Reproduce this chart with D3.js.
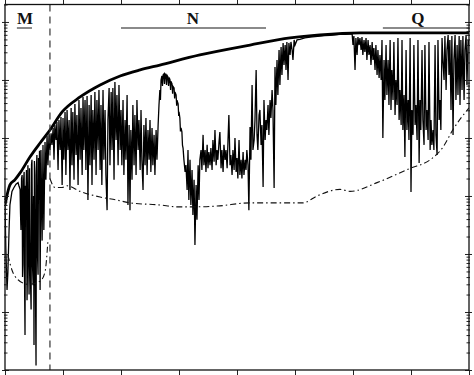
<!DOCTYPE html>
<html><head><meta charset="utf-8">
<script src="https://cdn.jsdelivr.net/npm/d3@7"></script>
<style>body{margin:0;background:#fff}svg{display:block}</style>
</head><body>
<script>
// ---- data (wavelength in micrometres, relative transmission / flux on log axis) ----
const bandNames = ["M", "N", "Q"];
const bandStart = [4.41, 8.0, 17.03];
const bandEnd = [4.93, 13.0, 20.0];
const bandLabelAt = [4.69, 10.48, 18.24];
const cutoffWavelength = 5.55;
const xTickValues = [4, 6, 8, 10, 12, 14, 16, 18, 20];
const xDomain = [4, 20];
const yDomain = [1e-6, 2];

const envelope = [[4.00,7.0e-4],[4.17,1.55e-3],[4.34,1.9e-3],[4.52,2.5e-3],[4.86,4.7e-3],[5.21,8.2e-3],[5.55,0.0137],[5.97,0.0281],[6.59,0.0509],[7.28,0.082],[7.97,0.117],[8.66,0.149],[9.34,0.181],[10.72,0.27],[12.45,0.40],[13.83,0.53],[14.86,0.60],[16.24,0.65],[20.00,0.65]];

const lowerLimitM = [[4.10,9.6e-5],[4.24,5.3e-5],[4.45,3.6e-5],[4.79,3.0e-5],[5.21,3.4e-5],[5.38,4.9e-5],[5.48,1.7e-4]];
const lowerLimit = [[5.55,2.0e-3],[5.72,1.4e-3],[5.97,1.4e-3],[6.14,1.5e-3],[6.59,1.2e-3],[7.28,9.6e-4],[7.86,8.5e-4],[8.31,7.6e-4],[9.34,7.0e-4],[9.93,6.5e-4],[10.62,6.5e-4],[11.31,6.7e-4],[12.45,7.6e-4],[13.59,7.6e-4],[14.28,7.6e-4],[14.76,1.0e-3],[15.55,1.3e-3],[15.90,1.2e-3],[16.83,1.7e-3],[17.97,3.0e-3],[18.66,4.2e-3],[19.10,6.9e-3],[19.45,1.4e-2],[20.00,3.3e-2]];

const spectrumM = [[4.00,7.0e-4],[4.03,1.2e-4],[4.07,2.4e-5],[4.10,4.9e-5],[4.14,2.6e-4],[4.17,7.0e-4],[4.24,1.2e-3],[4.31,1.4e-3],[4.38,1.6e-3],[4.45,1.7e-3],[4.48,1.5e-3],[4.52,1.3e-3],[4.535,5e-4],[4.55,2.6e-4],[4.57,2.0e-3],[4.59,2.3e-3],[4.605,4e-5],[4.62,6.5e-5],[4.64,1.8e-3],[4.66,2.6e-3],[4.675,3e-5],[4.69,4.0e-6],[4.705,1.5e-3],[4.72,8.5e-4],[4.74,2.8e-3],[4.76,1.6e-5],[4.775,6e-5],[4.79,3.4e-3],[4.81,2.0e-4],[4.83,2.0e-5],[4.845,3.0e-3],[4.86,1.7e-4],[4.88,3.5e-5],[4.90,1.1e-5],[4.915,3.5e-3],[4.93,4.2e-3],[4.95,6e-5],[4.97,2.9e-5],[4.985,1.0e-3],[5.00,2.7e-6],[5.015,4.0e-3],[5.03,2.3e-3],[5.05,3e-5],[5.07,1.2e-6],[5.085,3.0e-3],[5.10,5.1e-3],[5.12,1.0e-4],[5.14,4.4e-5],[5.155,4.5e-3],[5.17,8.5e-4],[5.19,6.0e-3],[5.21,2.4e-5],[5.24,6.2e-3],[5.28,1.7e-4],[5.31,7.6e-3],[5.34,2.6e-4],[5.38,8.5e-3],[5.41,1.9e-3],[5.45,1.1e-2],[5.48,3.4e-3],[5.52,1.2e-2],[5.55,6.2e-3]];

const spectrumWater = [[5.59,0.012],[5.62,7.6e-3],[5.66,0.0149],[5.69,4.2e-3],[5.72,0.0168],[5.76,9.2e-3],[5.79,0.0189],[5.83,2.8e-3],[5.86,0.0204],[5.90,6.2e-3],[5.93,0.023],[5.97,1.55e-3],[6.00,0.0221],[6.03,4.2e-3],[6.07,0.0281],[6.10,2.3e-3],[6.14,0.0304],[6.17,6.2e-3],[6.21,0.0204],[6.24,1.27e-3],[6.28,0.0329],[6.31,3.4e-3],[6.34,0.0281],[6.38,1.9e-3],[6.41,0.0386],[6.45,5.1e-3],[6.48,0.0249],[6.52,1.55e-3],[6.55,0.0452],[6.59,4.2e-3],[6.62,0.0329],[6.66,2.3e-3],[6.69,0.0509],[6.72,6.2e-3],[6.76,0.0452],[6.79,2.8e-3],[6.83,0.053],[6.86,8.5e-4],[6.90,0.0371],[6.93,3.4e-3],[6.97,0.0551],[7.00,1.55e-3],[7.03,0.0304],[7.07,4.2e-3],[7.10,0.0621],[7.14,2.3e-3],[7.17,0.0452],[7.21,6.2e-3],[7.24,0.0673],[7.28,2.8e-3],[7.31,0.0371],[7.34,1.55e-3],[7.38,0.0673],[7.41,4.2e-3],[7.45,0.0304],[7.48,2.3e-3],[7.52,5.7e-4],[7.55,0.0204],[7.59,0.0728],[7.62,3.4e-3],[7.66,0.0621],[7.69,6.2e-3],[7.72,0.0728],[7.76,1.9e-3],[7.79,0.0924],[7.83,9.2e-3],[7.86,0.0551],[7.90,3.4e-3],[7.93,0.082],[7.97,6.2e-3],
[8.00,0.0304],[8.03,3.4e-3],[8.07,0.0452],[8.10,2.3e-3],[8.14,0.0204],[8.17,4.2e-3],[8.21,0.0551],[8.24,7.0e-4],[8.28,0.0168],[8.31,5.7e-4],[8.34,0.0137],[8.38,1.9e-3],[8.41,0.0371],[8.45,3.4e-3],[8.48,0.0249],[8.52,2.3e-3],[8.55,0.0452],[8.59,6.2e-3],[8.62,0.0204],[8.66,2.8e-3],[8.69,0.0304],[8.72,4.2e-3],[8.76,1.27e-3],[8.79,0.0168],[8.83,3.4e-3],[8.86,0.0221],[8.90,2.3e-3],[8.93,0.0137],[8.97,4.2e-3],[9.00,0.0204],[9.03,2.6e-3],[9.07,0.0149],[9.10,3.4e-3],[9.14,0.0113],[9.17,2.3e-3],[9.21,0.0137],[9.24,4.2e-3],[9.28,0.0168]];

const spectrumN = [[9.31,0.0371],[9.34,0.0673],[9.36,0.0452],[9.38,0.1],[9.41,0.117],[9.43,0.0788],[9.45,0.122],[9.48,0.127],[9.50,0.0853],[9.52,0.127],[9.55,0.122],[9.57,0.082],[9.59,0.12],[9.62,0.113],[9.64,0.0788],[9.66,0.11],[9.69,0.1],[9.71,0.0673],[9.72,0.095],[9.76,0.0853],[9.78,0.0580],[9.79,0.078],[9.83,0.0728],[9.85,0.048],[9.86,0.062],[9.90,0.0551],[9.92,0.036],[9.93,0.045],[9.97,0.0386],[9.99,0.024],[10.00,0.0281],[10.03,0.0221],[10.05,0.013],[10.07,0.0149],[10.10,0.0127],[10.12,7.5e-3],[10.14,6.7e-3],[10.17,4.2e-3],[10.21,2.6e-3],
[10.24,3.4e-3],[10.28,1.27e-3],[10.31,6.2e-3],[10.34,8.5e-4],[10.38,4.2e-3],[10.41,7.0e-4],[10.45,2.8e-3],[10.48,4.7e-4],[10.52,1.9e-3],[10.55,1.43e-4],[10.59,1.55e-3],[10.62,3.9e-4],[10.66,3.4e-3],[10.69,8.5e-4],[10.72,4.2e-3],
[10.76,6.2e-3],[10.79,2.8e-3],[10.83,0.0113],[10.86,3.4e-3],[10.90,6.2e-3],[10.93,2.6e-3],[10.97,7.6e-3],[11.00,3.0e-3],[11.03,5.7e-3],[11.07,3.4e-3],[11.10,6.7e-3],[11.14,2.8e-3],[11.17,9.2e-3],[11.21,3.9e-3],[11.24,0.0137],[11.28,3.4e-3],[11.31,6.2e-3],[11.34,4.2e-3],[11.38,8.5e-3],[11.41,0.0127],[11.45,3.0e-3],[11.48,6.2e-3],[11.52,2.6e-3],[11.55,7.6e-3],[11.59,4.2e-3],[11.62,6.2e-3],[11.66,3.0e-3],[11.69,9.2e-3],[11.72,0.0249],[11.76,3.4e-3],[11.79,5.1e-3],[11.83,2.3e-3],[11.86,6.2e-3],[11.90,2.8e-3],[11.93,0.01],[11.97,2.6e-3],[12.00,4.5e-3],[12.03,2.0e-3],[12.07,9.2e-3],[12.10,2.3e-3],[12.14,4.2e-3],[12.17,2.0e-3],[12.21,5.7e-3],[12.24,2.3e-3],[12.28,4.2e-3],[12.31,2.8e-3],[12.34,6.2e-3],[12.38,3.4e-3],[12.41,5.7e-4],[12.45,0.0155],[12.48,4.2e-3],[12.52,0.082],[12.55,6.2e-3],[12.59,9.2e-3],[12.62,0.0204],[12.66,0.149],[12.69,0.0113],[12.72,6.2e-3],[12.76,0.0249],[12.79,0.0304],[12.83,7.6e-3],[12.86,0.0168],[12.90,1.43e-3],[12.93,0.0452],[12.97,9.2e-3],[13.00,0.0204],[13.03,0.0137],[13.07,0.0371],[13.10,0.0113],[13.14,0.0452],[13.17,0.0221],[13.21,0.0673],[13.24,0.0304],[13.28,1.37e-3],[13.31,0.168],[13.34,0.0371],[13.38,0.221],[13.41,0.0551],[13.45,0.329],[13.48,0.082],[13.52,0.371],[13.55,0.122],[13.59,0.435],[13.62,0.181],[13.66,0.40],[13.69,0.149],[13.72,0.452],[13.76,0.1],[13.79,0.435],[13.83,0.27],[13.86,0.452],[13.90,0.329],[13.93,0.221],[13.97,0.49],[14.00,0.40],[14.07,0.49]];

const spectrumClear = [[14.17,0.50],[14.34,0.53],[14.52,0.55],[14.69,0.56],[14.86,0.57],[15.03,0.58],[15.21,0.59],[15.38,0.60],[15.55,0.61],[15.72,0.61],[15.90,0.62]];

const spectrumQ = [[15.97,0.62],[16.00,0.40],[16.03,0.574],[16.07,0.149],[16.10,0.53],[16.14,0.27],[16.17,0.551],[16.21,0.40],[16.24,0.53],[16.28,0.329],[16.31,0.551],[16.34,0.27],[16.38,0.49],[16.41,0.304],[16.45,0.53],[16.48,0.221],[16.52,0.49],[16.55,0.27],[16.59,0.40],[16.62,0.181],[16.66,0.452],[16.69,0.221],[16.72,0.356],[16.76,0.149],[16.79,0.40],[16.83,0.122],[16.86,0.329],[16.90,0.108],[16.93,0.27],[16.97,0.1],[17.00,0.49],[17.03,0.01],[17.07,0.221],[17.10,0.0452],[17.14,0.40],[17.17,0.0551],[17.21,0.221],[17.24,0.0371],[17.28,0.49],[17.31,0.0304],[17.34,0.149],[17.38,0.0452],[17.41,0.452],[17.45,0.0249],[17.48,0.1],[17.52,0.0371],[17.55,0.53],[17.59,0.0204],[17.62,0.0673],[17.66,0.0168],[17.69,0.49],[17.72,0.0137],[17.76,0.0551],[17.79,4.7e-3],[17.83,0.329],[17.86,0.0137],[17.90,0.0452],[17.93,9.2e-3],[17.97,0.53],[18.00,1.17e-3],[18.03,0.0304],[18.07,0.0113],[18.10,0.40],[18.14,0.0168],[18.17,0.0371],[18.21,9.2e-3],[18.24,0.49],[18.28,3.7e-3],[18.31,0.0452],[18.34,0.0137],[18.38,0.329],[18.41,0.0204],[18.45,7.6e-3],[18.48,0.40],[18.52,0.0137],[18.55,0.0304],[18.59,9.2e-3],[18.62,0.452],[18.66,6.2e-3],[18.69,0.0204],[18.72,7.6e-3],[18.76,0.0137],[18.79,6.2e-3],[18.83,0.40],[18.86,0.0113],[18.90,5.1e-3],[18.93,0.49],[18.97,0.0204],[19.00,0.0452],[19.03,0.0137],[19.07,0.53],[19.10,0.221],[19.14,0.1],[19.17,0.574],[19.21,0.0673],[19.24,0.329],[19.28,0.597],[19.31,0.122],[19.34,0.49],[19.38,0.0304],[19.41,0.574],[19.45,0.0113],[19.48,0.221],[19.52,0.597],[19.55,0.0452],[19.59,0.40],[19.62,0.0551],[19.66,0.574],[19.69,0.0371],[19.72,0.49],[19.76,0.0673],[19.79,0.574],[19.83,0.0452],[19.86,0.329],[19.90,0.597],[19.93,0.082],[19.97,0.49],[20.00,0.40]];

const spectrum = [].concat(spectrumM, spectrumWater, spectrumN, spectrumClear, spectrumQ);

// ---- layout ----
const W = 474, H = 375;
const plot = {left: 5, right: 469, top: 4.5, bottom: 370};

const svg = d3.select("body").append("svg").attr("width", W).attr("height", H)
  .style("background", "#fff");

const x = d3.scaleLinear().domain(xDomain).range([plot.left, plot.right]);
const y = d3.scaleLog().domain(yDomain).range([plot.bottom, plot.top]);

svg.append("defs").append("clipPath").attr("id", "clip")
  .append("rect").attr("x", plot.left).attr("y", plot.top)
  .attr("width", plot.right - plot.left).attr("height", plot.bottom - plot.top);

const data = svg.append("g").attr("clip-path", "url(#clip)");

const line = d3.line().x(d => x(d[0])).y(d => y(d[1]));

// spectrum
data.append("path").datum(spectrum).attr("d", line)
  .attr("fill", "none").attr("stroke", "#000").attr("stroke-width", 1.3)
  .attr("stroke-linejoin", "miter");

// envelope
data.append("path").datum(envelope)
  .attr("d", d3.line().x(d => x(d[0])).y(d => y(d[1])).curve(d3.curveMonotoneX))
  .attr("fill", "none").attr("stroke", "#000").attr("stroke-width", 2.8);

// lower limit (dash-dot)
[lowerLimitM, lowerLimit].forEach(seg => {
  data.append("path").datum(seg)
    .attr("d", d3.line().x(d => x(d[0])).y(d => y(d[1])).curve(d3.curveMonotoneX))
    .attr("fill", "none").attr("stroke", "#111").attr("stroke-width", 1.1)
    .attr("stroke-dasharray", "6,3,1.5,3");
});

// vertical dashed cutoff
data.append("line")
  .attr("x1", x(cutoffWavelength)).attr("x2", x(cutoffWavelength))
  .attr("y1", plot.top).attr("y2", plot.bottom)
  .attr("stroke", "#333").attr("stroke-width", 1.2).attr("stroke-dasharray", "7,5");

// band markers
const bands = bandNames.map((n, i) => ({name: n, s: bandStart[i], e: bandEnd[i], at: bandLabelAt[i]}));
svg.selectAll(".bandbar").data(bands).join("line")
  .attr("x1", d => x(d.s)).attr("x2", d => x(d.e))
  .attr("y1", 28).attr("y2", 28)
  .attr("stroke", "#8a8a8a").attr("stroke-width", 2);
svg.selectAll(".bandlabel").data(bands).join("text")
  .attr("x", d => x(d.at)).attr("y", 24)
  .attr("text-anchor", "middle")
  .attr("font-family", "'Liberation Serif','Times New Roman',serif")
  .attr("font-weight", "bold").attr("font-size", 17)
  .attr("fill", "#111")
  .text(d => d.name);

// axes
const axisStyle = g => {
  g.select(".domain").remove();
  g.selectAll("line").attr("stroke", "#222").attr("stroke-width", 1);
};
svg.append("g").attr("transform", `translate(0,${plot.top})`)
  .call(d3.axisTop(x).tickValues(xTickValues).tickSize(4.5).tickFormat(""))
  .call(axisStyle);
svg.append("g").attr("transform", `translate(0,${plot.bottom})`)
  .call(d3.axisBottom(x).tickValues(xTickValues).tickSize(5).tickFormat(""))
  .call(axisStyle);

const yTicks = y.ticks();
const isMajor = v => Math.abs(Math.log10(v) - Math.round(Math.log10(v))) < 1e-6;
svg.append("g").attr("transform", `translate(${plot.left},0)`)
  .call(d3.axisLeft(y).tickValues(yTicks).tickFormat(""))
  .call(axisStyle)
  .selectAll(".tick line")
  .attr("x1", d => isMajor(d) ? -3 : -1).attr("x2", d => isMajor(d) ? 4 : 2.5);
svg.append("g").attr("transform", `translate(${plot.right},0)`)
  .call(d3.axisRight(y).tickValues(yTicks).tickFormat(""))
  .call(axisStyle)
  .selectAll(".tick line")
  .attr("x1", d => isMajor(d) ? -4 : -2.5).attr("x2", d => isMajor(d) ? 3 : 1);

// frame
svg.append("rect").attr("x", plot.left).attr("y", plot.top)
  .attr("width", plot.right - plot.left).attr("height", plot.bottom - plot.top)
  .attr("fill", "none").attr("stroke", "#111").attr("stroke-width", 1.3);
</script>
</body></html>
